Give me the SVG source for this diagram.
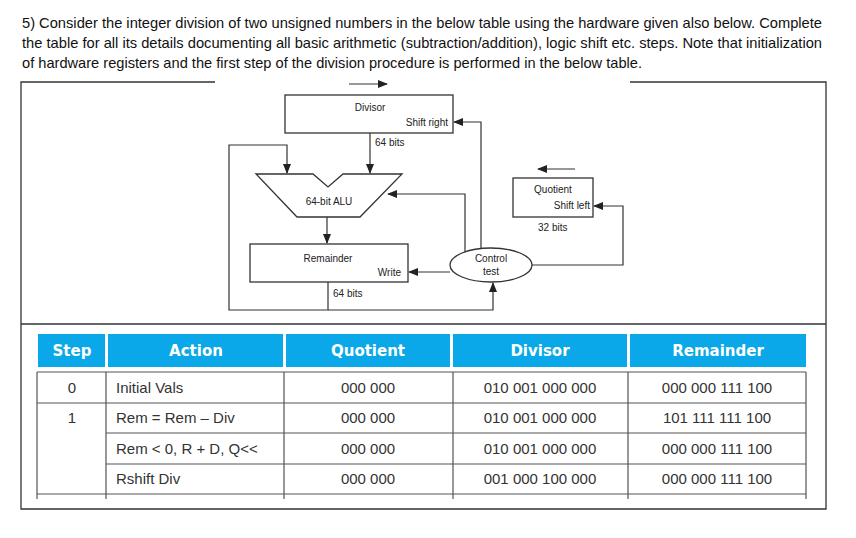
<svg xmlns="http://www.w3.org/2000/svg" width="856" height="538" viewBox="0 0 856 538">
<defs><marker id="ah" markerWidth="10" markerHeight="8" refX="9" refY="4" orient="auto" markerUnits="userSpaceOnUse"><path d="M0,0 L10,4 L0,8 z" fill="#222"/></marker></defs>
<style>
.t{font-family:"Liberation Sans",Arial,sans-serif;fill:#111}
.d{font-family:"Liberation Sans",Arial,sans-serif;font-size:10px;fill:#222}
.b{fill:#fff;stroke:#333;stroke-width:1.3}
.c{fill:none;stroke:#333;stroke-width:1.2}
.h{fill:#0aa8e8}
.ht{font-family:"DejaVu Sans",sans-serif;font-weight:bold;font-size:15px;fill:#fff;text-anchor:middle}
.ct{font-family:"Liberation Sans",Arial,sans-serif;font-size:15px;fill:#333}
.g{stroke:#555;stroke-width:1.2;fill:none}
</style>
<rect width="856" height="538" fill="#fff"/>
<text class="t" x="22" y="28" font-size="14.5" textLength="800" lengthAdjust="spacingAndGlyphs">5) Consider the integer division of two unsigned numbers in the below table using the hardware given also below.  Complete</text>
<text class="t" x="22" y="48" font-size="14.5" textLength="800" lengthAdjust="spacingAndGlyphs">the table for all its details documenting all basic arithmetic (subtraction/addition), logic shift etc. steps.  Note that initialization</text>
<text class="t" x="22" y="68" font-size="15" textLength="620" lengthAdjust="spacingAndGlyphs">of hardware registers and the first step of the division procedure is performed in the below table.</text>
<g id="frame" stroke="#333" stroke-width="1.3" fill="none">
<path d="M215,82 H21 V509 H826 V82 H630"/>
<path d="M21,324 H826"/>
</g>
<g id="divisor"><rect class="b" x="285" y="95" width="168" height="38"/><text class="d" x="370" y="111" text-anchor="middle">Divisor</text><text class="d" x="448" y="126" text-anchor="end">Shift right</text></g>
<g id="alu"><path class="b" d="M256,174 H313 L328,187 L343,174 H402 L360,217 H297 Z"/><text class="d" x="329" y="205" text-anchor="middle">64-bit ALU</text></g>
<g id="remainder"><rect class="b" x="250" y="244" width="158" height="38"/><text class="d" x="328" y="262" text-anchor="middle">Remainder</text><text class="d" x="401" y="276" text-anchor="end">Write</text></g>
<g id="quotient"><rect class="b" x="513" y="178" width="80" height="39"/><text class="d" x="553" y="193" text-anchor="middle">Quotient</text><text class="d" x="590" y="209" text-anchor="end">Shift left</text></g>
<g id="control"><ellipse class="b" cx="491" cy="265" rx="41" ry="17"/><text class="d" x="491" y="262" text-anchor="middle">Control</text><text class="d" x="491" y="275" text-anchor="middle">test</text></g>
<g id="labels"><text class="d" x="375" y="146">64 bits</text><text class="d" x="333" y="297">64 bits</text><text class="d" x="538" y="231">32 bits</text></g>
<g id="connectors">
<path class="c" d="M349,84 H387" marker-end="url(#ah)"/>
<path class="c" d="M575,169 H538" marker-end="url(#ah)"/>
<path class="c" d="M370,133 V173" marker-end="url(#ah)"/>
<path class="c" d="M327,217 V243" marker-end="url(#ah)"/>
<path class="c" stroke-width="2" d="M328,282 V310 H229 V145 H287 V173" marker-end="url(#ah)"/>
<path class="c" d="M328,310 H493 V283" marker-end="url(#ah)"/>
<path class="c" d="M481,249 V122 H454" marker-end="url(#ah)"/>
<path class="c" d="M465,252 V194 H388" marker-end="url(#ah)"/>
<path class="c" d="M450,272 H409" marker-end="url(#ah)"/>
<path class="c" d="M532,265 H623 V206 H594" marker-end="url(#ah)"/>
</g>
<g id="table">
<rect class="h" x="38" y="334" width="67" height="33"/><rect class="h" x="108" y="334" width="175" height="33"/><rect class="h" x="286" y="334" width="164" height="33"/><rect class="h" x="453" y="334" width="174" height="33"/><rect class="h" x="630" y="334" width="176" height="33"/>
<text class="ht" x="72" y="356">Step</text><text class="ht" x="196" y="356">Action</text><text class="ht" x="368" y="356">Quotient</text><text class="ht" x="540" y="356">Divisor</text><text class="ht" x="718" y="356">Remainder</text>
<path class="g" d="M37,372 H806 M37,403 H806 M106,433 H806 M106,464 H806 M37,494 H806 M37,372 V499 M106,372 V499 M284,372 V499 M453,372 V499 M628,372 V499 M806,372 V499"/>
<g class="ct">
<text x="72" y="393" text-anchor="middle">0</text><text x="72" y="423" text-anchor="middle">1</text>
<text x="116" y="393">Initial Vals</text><text x="116" y="423">Rem = Rem – Div</text><text x="116" y="454">Rem &lt; 0, R + D, Q&lt;&lt;</text><text x="116" y="484">Rshift Div</text>
<text x="368" y="393" text-anchor="middle">000 000</text><text x="368" y="423" text-anchor="middle">000 000</text><text x="368" y="454" text-anchor="middle">000 000</text><text x="368" y="484" text-anchor="middle">000 000</text>
<text x="540" y="393" text-anchor="middle">010 001 000 000</text><text x="540" y="423" text-anchor="middle">010 001 000 000</text><text x="540" y="454" text-anchor="middle">010 001 000 000</text><text x="540" y="484" text-anchor="middle">001 000 100 000</text>
<text x="717" y="393" text-anchor="middle">000 000 111 100</text><text x="717" y="423" text-anchor="middle">101 111 111 100</text><text x="717" y="454" text-anchor="middle">000 000 111 100</text><text x="717" y="484" text-anchor="middle">000 000 111 100</text>
</g></g>
</svg>
